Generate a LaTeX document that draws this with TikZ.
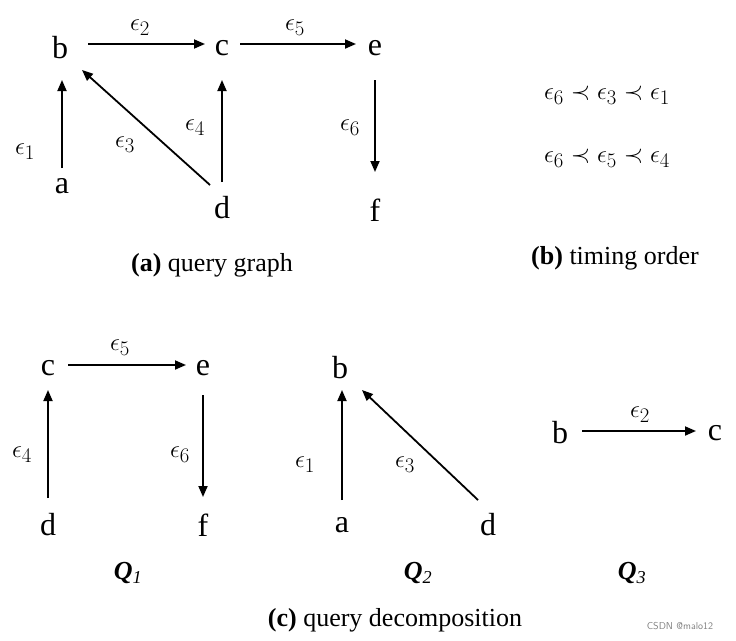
\documentclass[tikz,border=0pt]{standalone}
\usepackage{fontspec}
\setmainfont{Liberation Serif}
\usetikzlibrary{arrows.meta}
\begin{document}
\begin{tikzpicture}[x=1pt,y=-1pt,
  v/.style={font=\fontsize{32}{32}\selectfont, inner sep=0pt},
  lab/.style={font=\fontsize{30}{30}\selectfont, inner sep=0pt},
  captxt/.style={font=\fontsize{26}{26}\selectfont, inner sep=0pt},
  ar/.style={-{Triangle[length=11pt,width=9pt]}, line width=1.8pt}]
\useasboundingbox (0,0) rectangle (736,640);
% (a)
\node[v] (b) at (60,48) {b};
\node[v] (c) at (222,48) {c};
\node[v] (e) at (375,48) {e};
\node[v] (a) at (62,186) {a};
\node[v] (d) at (222,208) {d};
\node[v] (f) at (375,210) {f};
\draw[ar] (62,168) -- (62,80);
\draw[ar] (88,44) -- (205,44);
\draw[ar] (240,44) -- (356,44);
\draw[ar] (375,80) -- (375,172);
\draw[ar] (222,182) -- (222,80);
\draw[ar] (210,185) -- (82,70);
\node[lab] (l2) at (140,28) {$\epsilon_2$};
\node[lab] (l5) at (295,28) {$\epsilon_5$};
\node[lab] (l1) at (25,152) {$\epsilon_1$};
\node[lab] (l3) at (125,145) {$\epsilon_3$};
\node[lab] (l4) at (195,128) {$\epsilon_4$};
\node[lab] (l6) at (350,128) {$\epsilon_6$};
\node[captxt] (capa) at (212,265) {\textbf{(a)} query graph};
% (b)
\node[lab] (t1) at (607,95) {$\epsilon_6\prec\epsilon_3\prec\epsilon_1$};
\node[lab] (t2) at (607,158) {$\epsilon_6\prec\epsilon_5\prec\epsilon_4$};
\node[captxt] (capb) at (615,258) {\textbf{(b)} timing order};
% Q1
\node[v] (c1) at (48,368) {c};
\node[v] (e1) at (203,368) {e};
\node[v] (d1) at (48,525) {d};
\node[v] (f1) at (203,525) {f};
\draw[ar] (68,365) -- (186,365);
\draw[ar] (48,498) -- (48,390);
\draw[ar] (203,395) -- (203,497);
\node[lab] at (120,348) {$\epsilon_5$};
\node[lab] at (22,455) {$\epsilon_4$};
\node[lab] at (180,455) {$\epsilon_6$};
\node[captxt] (q1) at (128,573) {\textbf{\textit{Q}}$_{\mathbf{\mathit{1}}}$};
% Q2
\node[v] (b2) at (340,368) {b};
\node[v] (a2) at (342,525) {a};
\node[v] (d2) at (488,525) {d};
\draw[ar] (342,500) -- (342,390);
\draw[ar] (478,500) -- (362,390);
\node[lab] at (305,465) {$\epsilon_1$};
\node[lab] at (405,465) {$\epsilon_3$};
\node[captxt] (q2) at (418,573) {\textbf{\textit{Q}}$_{\mathbf{\mathit{2}}}$};
% Q3
\node[v] (b3) at (560,433) {b};
\node[v] (c3) at (715,433) {c};
\draw[ar] (582,431) -- (696,431);
\node[lab] at (640,415) {$\epsilon_2$};
\node[captxt] (q3) at (632,573) {\textbf{\textit{Q}}$_{\mathbf{\mathit{3}}}$};
\node[captxt] (capc) at (395,620) {\textbf{(c)} query decomposition};
\node[font=\fontsize{10}{10}\selectfont\sffamily, text=gray, inner sep=0pt] (wm) at (680,626) {CSDN @malo12};
\end{tikzpicture}
\end{document}
